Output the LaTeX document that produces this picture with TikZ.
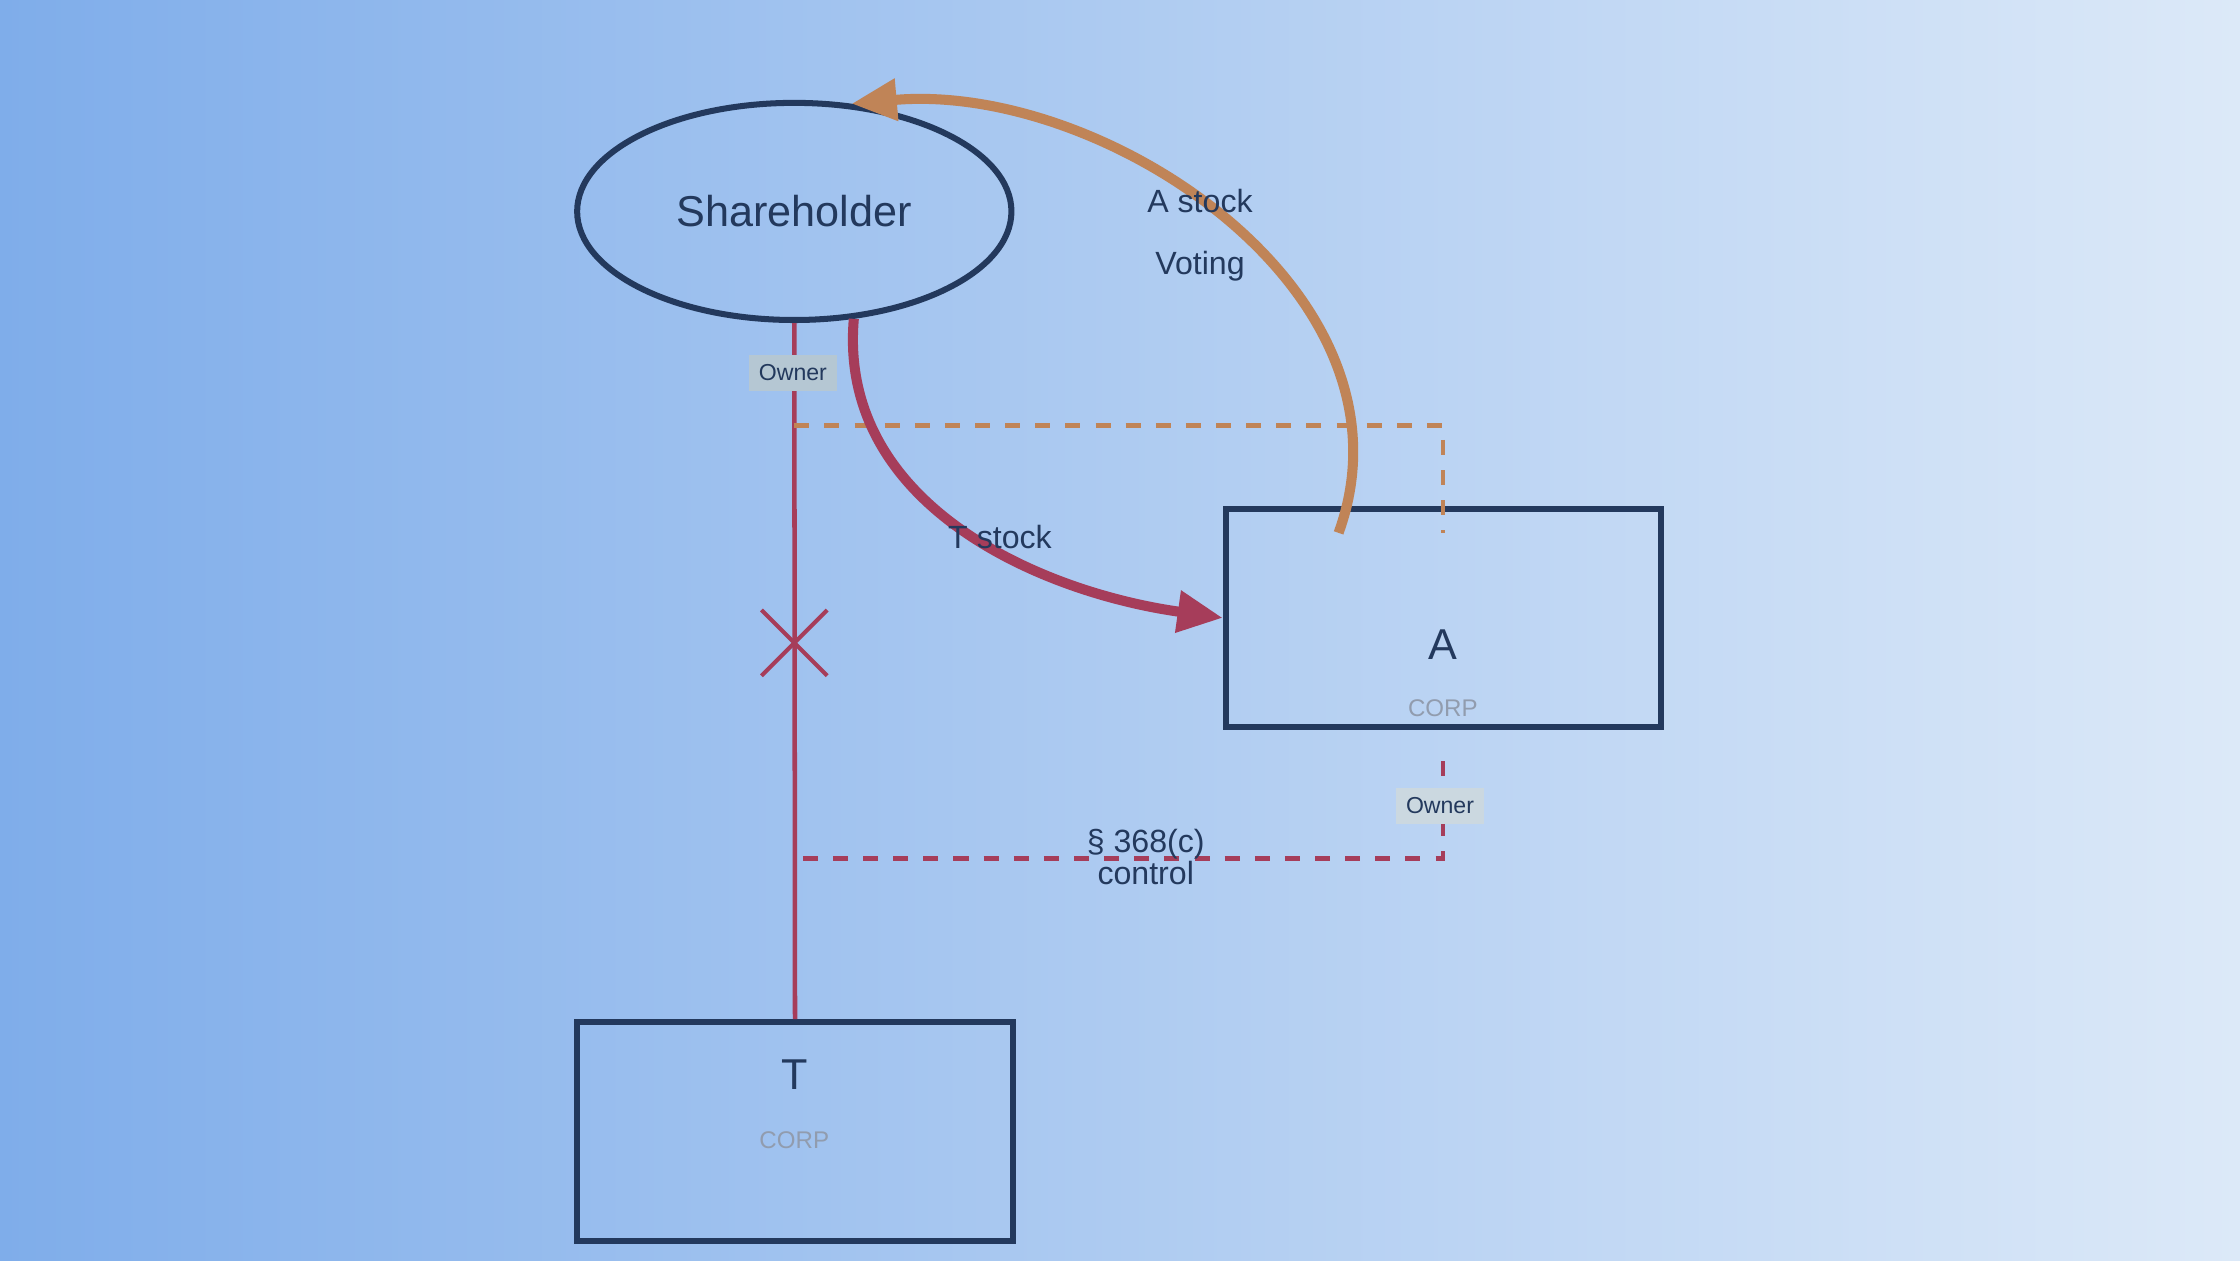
\documentclass[tikz,border=0pt]{standalone}
\usepackage{fontspec}
\setmainfont{Liberation Sans}
\usetikzlibrary{arrows.meta,shapes.geometric}
\definecolor{navy}{HTML}{23395D}
\definecolor{rose}{HTML}{A63D5A}
\definecolor{tan}{HTML}{C08457}
\definecolor{bgl}{HTML}{7FADEA}
\definecolor{bgr}{HTML}{DCE9F8}
\definecolor{tagbg}{HTML}{B5C7D3}
\begin{document}
\begin{tikzpicture}[
    corp/.style={draw=navy,line width=1.2pt,minimum width=3.05cm,minimum height=1.53cm},
    tag/.style={fill=tagbg,text=navy,font=\fontsize{4.6}{5}\selectfont,inner sep=2pt},
    lbl/.style={text=navy,font=\fontsize{6.4}{7.4}\selectfont,align=center}
]

    % background
    \shade[left color=bgl,right color=bgr] (0,0) rectangle (15.68,8.82);

    % nodes
    \node[draw=navy,line width=1.2pt,ellipse,minimum width=3.04cm,minimum height=1.52cm,
          text=navy,font=\fontsize{8.6}{10}\selectfont] (sh) at (5.56,7.34) {Shareholder};
    \node[corp] (A) at (10.105,4.495) {};
    \node[text=navy,font=\fontsize{8.6}{10}\selectfont] at (10.1,4.31) {A};
    \node[text=navy!50,font=\fontsize{4.8}{5}\selectfont] at (10.1,3.86) {CORP};
    \node[corp] (T) at (5.565,0.9) {};
    \node[text=navy,font=\fontsize{8.6}{10}\selectfont] at (5.56,1.3) {T};
    \node[text=navy!50,font=\fontsize{4.8}{5}\selectfont] at (5.56,0.84) {CORP};

    % ownership lines
    \draw[rose,line width=0.9pt] (sh.south) -- (T.north);
    \draw[tan,dashed,line width=0.9pt] (5.56,5.84) -- (10.1,5.84) -- (10.1,5.09);
    \draw[rose,dashed,line width=0.9pt] (5.62,2.81) -- (10.1,2.81) -- (10.1,3.56);
    \draw[rose,line width=0.8pt] (5.33,4.55) -- (5.79,4.09) (5.33,4.09) -- (5.79,4.55);
    \node[tag] (o1) at (5.55,6.21) {Owner};
    \node[tag,fill=tagbg!70!white] (o2) at (10.08,3.18) {Owner};
    \node[lbl] at (8.02,2.82) {§ 368(c)\\[-1pt]control};

    % stock transfers
    \draw[rose,line width=2pt,-{Triangle[length=9pt,width=8pt]}] (sh.-61) to[out=-95,in=172] (A.west);
    \node[lbl] at (7.0,5.06) {T stock};
    \draw[tan,line width=2pt,-{Triangle[length=9pt,width=8pt]}] (9.37,5.09) to[out=70,in=5] (sh.62);
    \node[lbl] at (8.40,7.41) {A stock};
    \node[lbl] at (8.40,6.96) {Voting};

\end{tikzpicture}
\end{document}
